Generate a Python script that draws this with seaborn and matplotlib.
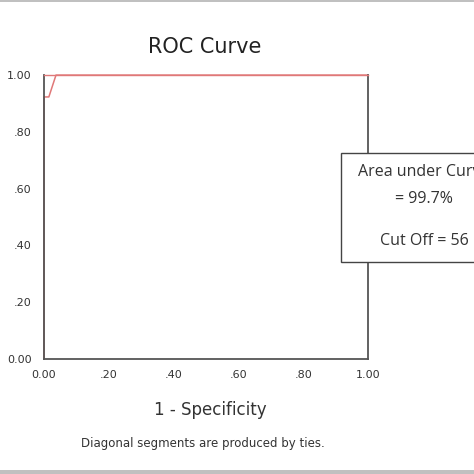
import matplotlib
matplotlib.use("Agg")
import matplotlib.pyplot as plt
import seaborn as sns
import pandas as pd
from matplotlib.patches import Rectangle

# ROC curve points (1 - specificity, sensitivity)
fpr = [0.0, 0.0, 0.015, 0.037, 1.0]
tpr = [0.0, 0.923, 0.923, 1.0, 1.0]
tick_vals = [0.0, 0.2, 0.4, 0.6, 0.8, 1.0]
tick_labels = ["0.00", ".20", ".40", ".60", ".80", "1.00"]
box_lines = ["Area under Curve", "= 99.7%", "Cut Off = 56"]
box_line_y = [172, 199, 241]  # pixel rows in the source picture

LINE_RED = "#e07878"
FRAME = "#555555"

sns.set_style("white")
plt.rcParams["font.family"] = ["DejaVu Sans"]

fig = plt.figure(figsize=(4.74, 4.74), dpi=100)
ax = fig.add_axes([0.0928, 0.2426, 0.684, 0.599])

df = pd.DataFrame({"fpr": fpr, "tpr": tpr})
sns.lineplot(data=df, x="fpr", y="tpr", sort=False, estimator=None,
             color=LINE_RED, linewidth=1.1, ax=ax, clip_on=False, zorder=2)

ax.set_xlim(0, 1)
ax.set_ylim(0, 1)
ax.set_xticks(tick_vals)
ax.set_xticklabels(tick_labels)
ax.set_yticks(tick_vals)
ax.set_yticklabels(tick_labels)
ax.tick_params(axis="both", labelsize=8, length=3, width=0.8, colors=FRAME,
               labelcolor="#333333", direction="out")
ax.tick_params(axis="x", pad=5)
ax.tick_params(axis="y", pad=6)
for s in ax.spines.values():
    s.set_color(FRAME)
    s.set_linewidth(1.3)
ax.spines["top"].set_color(LINE_RED)
ax.spines["top"].set_linewidth(1.0)
ax.set_xlabel("")
ax.set_ylabel("")

fig.text(205 / 474, 1 - 47 / 474, "ROC Curve", ha="center", va="center",
         fontsize=15, color="#222222")
fig.text(210 / 474, 1 - 410 / 474, "1 - Specificity", ha="center", va="center",
         fontsize=12, color="#333333")
fig.text(203 / 474, 1 - 444 / 474, "Diagonal segments are produced by ties.",
         ha="center", va="center", fontsize=8.5, color="#333333")

# AUC annotation box (runs past the right edge of the figure, as in the source)
fig.patches.append(Rectangle((341 / 474, 1 - 262 / 474), 170 / 474, 109 / 474,
                             transform=fig.transFigure, facecolor="white",
                             edgecolor="#444444", linewidth=1.0, zorder=10))
for line, y in zip(box_lines, box_line_y):
    fig.text(424 / 474, 1 - y / 474, line, ha="center", va="center", fontsize=11.5,
             family=["Open Sans", "DejaVu Sans"], color="#333333", zorder=11)

# light grey border bands of the source image
fig.patches.append(Rectangle((0, 1 - 2 / 474), 1, 2 / 474, transform=fig.transFigure,
                             facecolor="#c0c0c0", edgecolor="none"))
fig.patches.append(Rectangle((0, 0), 1, 4 / 474, transform=fig.transFigure,
                             facecolor="#c0c0c0", edgecolor="none"))

fig.savefig("out.png", dpi=100)
